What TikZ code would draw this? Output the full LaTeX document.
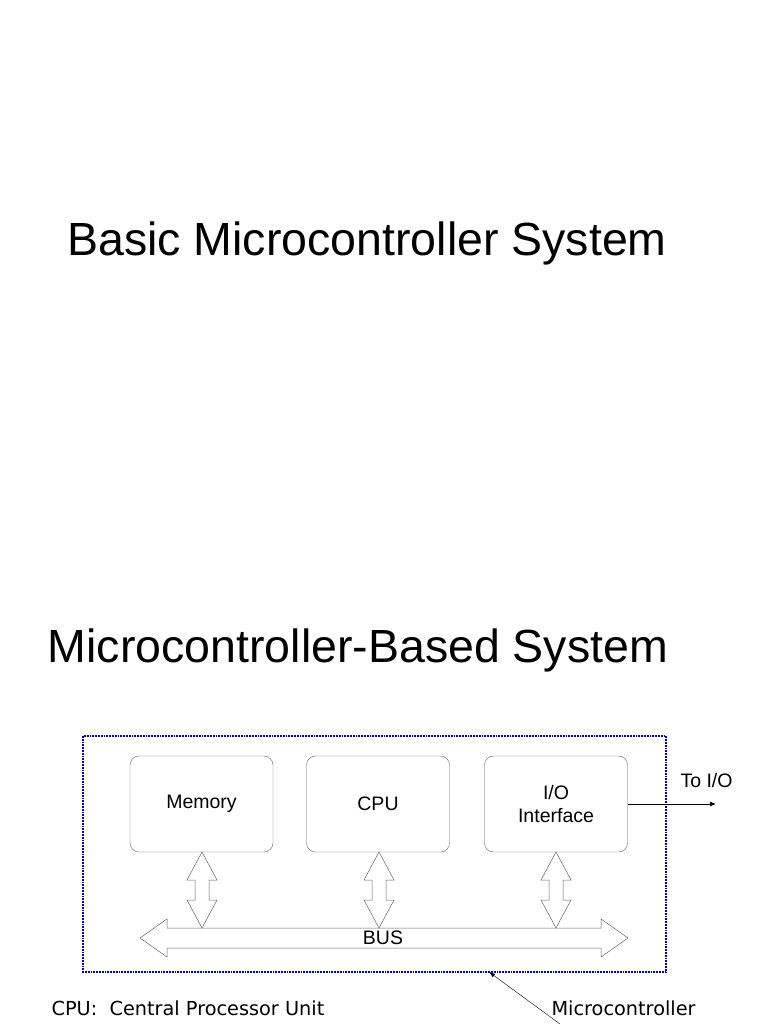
\documentclass[tikz,border=0pt]{standalone}
\usepackage{fontspec}
\setmainfont{Liberation Sans}
\newfontfamily\dvfont{DejaVu Sans}
\usetikzlibrary{arrows.meta}
\begin{document}
\begin{tikzpicture}[x=1pt,y=-1pt,
  blk/.style={draw=black!60,rounded corners=9pt,minimum width=143pt,minimum height=96pt,font=\fontsize{19.5}{23}\selectfont,align=center,line width=0.4pt},
  fat/.style={draw=black!60,fill=white,line width=0.5pt},
  leg/.style={font=\dvfont\fontsize{19.3}{22}\selectfont,anchor=west}]
\useasboundingbox (0,0) rectangle (768,1024);
\fill[white] (0,0) rectangle (768,1024);
\node[font=\fontsize{46.5}{50}\selectfont] (t1) at (367,243) {Basic Microcontroller System};
\node[font=\fontsize{46.5}{50}\selectfont] (t2) at (358,650) {Microcontroller-Based System};
\draw[blue!70!black,densely dotted,line width=1.8pt] (83,736) rectangle (666,972);
\node[blk] (mem) at (201.5,804) {Memory};
\node[blk] (cpu) at (378,804) {CPU};
\node[blk] (io) at (556,804) {I/O\\Interface};
% bus
\draw[fat] (140,938) -- (167,919) -- (167,928) -- (601,928) -- (601,919) -- (628,938) -- (601,957) -- (601,948) -- (167,948) -- (167,957) -- cycle;
\node[font=\fontsize{19.5}{23}\selectfont] (bus) at (383,938) {BUS};
% vertical arrows
\foreach \x in {202,379,556}{
\draw[fat] (\x,852) -- (\x+15,880) -- (\x+7,880) -- (\x+7,900) -- (\x+15,900) -- (\x,928) -- (\x-15,900) -- (\x-7,900) -- (\x-7,880) -- (\x-15,880) -- cycle;}
\node[font=\fontsize{19.5}{23}\selectfont,anchor=west] (toio) at (677,781) {To I/O};
\coordinate (ioe) at (716,804);
\draw[-{Latex[length=6pt,width=5pt]},line width=0.8pt] (io.east) -- (ioe);
\node[leg] (lg) at (48,1008) {CPU:\ \ Central Processor Unit};
\node[leg] (mc) at (548,1008) {Microcontroller};
\coordinate (mcb) at (489,972);
\coordinate (mct) at (560,1024);
\draw[-{Latex[length=6pt,width=4pt]}] (mct) -- (mcb);
\end{tikzpicture}
\end{document}
